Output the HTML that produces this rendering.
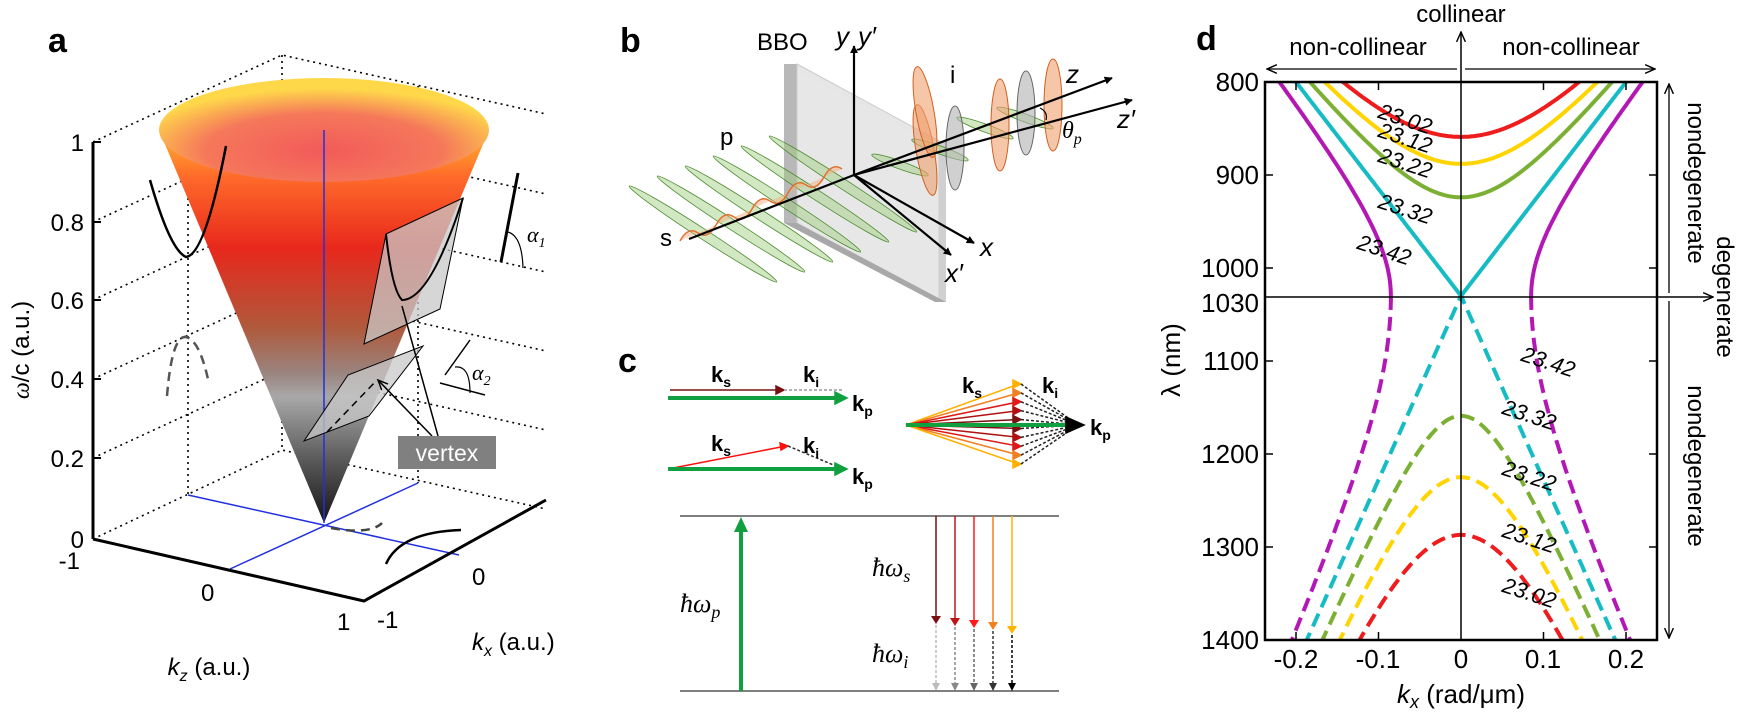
<!DOCTYPE html>
<html><head><meta charset="utf-8"><style>
html,body{margin:0;padding:0;background:#fff;overflow:hidden;width:1746px;height:713px}
svg{display:block;font-family:"Liberation Sans",Arial,sans-serif}
</style></head><body>
<svg id="s" width="1746" height="713" viewBox="0 0 1746 713" xmlns="http://www.w3.org/2000/svg">
<defs>
<linearGradient id="cg" x1="0" y1="130" x2="0" y2="523" gradientUnits="userSpaceOnUse">
<stop offset="0" stop-color="#ffb62e"/><stop offset="0.12" stop-color="#ff6a2a"/><stop offset="0.3" stop-color="#e8281c"/>
<stop offset="0.5" stop-color="#b0583a"/><stop offset="0.62" stop-color="#9a8580"/><stop offset="0.68" stop-color="#a8a8a8"/>
<stop offset="0.85" stop-color="#555"/><stop offset="1" stop-color="#151515"/></linearGradient>
<radialGradient id="tg" cx="0.5" cy="0.7" r="0.6"><stop offset="0" stop-color="#f25a5a"/><stop offset="0.6" stop-color="#f5785a"/><stop offset="1" stop-color="#ffd84a"/></radialGradient>
<marker id="ah" viewBox="0 0 10 10" refX="9" refY="5" markerWidth="8" markerHeight="8" orient="auto-start-reverse" markerUnits="userSpaceOnUse"><path d="M0,0L10,5L0,10z" fill="#000"/></marker>
<marker id="oa" viewBox="0 0 10 10" refX="9" refY="5" markerWidth="11" markerHeight="11" orient="auto-start-reverse" markerUnits="userSpaceOnUse"><path d="M0,1L9,5L0,9" fill="none" stroke="#000" stroke-width="1.3"/></marker>
<clipPath id="pc"><rect x="1265" y="82" width="392" height="558"/></clipPath>
</defs>

<!-- ========== Panel a ========== -->
<text x="48" y="52" font-size="34" font-weight="bold">a</text>
<g stroke="#000" stroke-width="1.6" stroke-dasharray="2,4" fill="none">
<path d="M93,142L282,55L546,114"/>
<path d="M93,222L282,135L546,194"/>
<path d="M93,300L282,213L546,272"/>
<path d="M93,379L282,292L546,351"/>
<path d="M93,458L282,371L546,430"/>
<path d="M93,539L282,450L546,509"/>
<path d="M282,55L282,450"/>
<path d="M188,102L188,495"/>
<path d="M418,86L418,483"/>
</g>
<g stroke="#2030e0" stroke-width="1.5"><path d="M188,495L459,555"/><path d="M230,569L418,483"/></g>
<path d="M159,130L324,523L489,130Z" fill="url(#cg)"/>
<ellipse cx="324" cy="130" rx="165" ry="52" fill="url(#tg)"/>
<path d="M324,130L324,523" stroke="#2030e0" stroke-width="1.5"/>
<g stroke="#000" stroke-width="3" fill="none"><path d="M93,142L93,539"/><path d="M93,539L364,601L546,500"/></g>
<g stroke="#000" stroke-width="2"><path d="M93,222h8M93,300h8M93,379h8M93,458h8M93,142h8"/></g>
<g font-size="24" text-anchor="end"><text x="84" y="151">1</text><text x="84" y="231">0.8</text><text x="84" y="309">0.6</text><text x="84" y="388">0.4</text><text x="84" y="467">0.2</text><text x="84" y="548">0</text><text x="80" y="569">-1</text></g>
<g font-size="24"><text x="201" y="601">0</text><text x="337" y="630">1</text><text x="377" y="628">-1</text><text x="472" y="585">0</text></g>
<text transform="translate(29,350) rotate(-90)" font-size="24" text-anchor="middle"><tspan font-style="italic" font-family="Liberation Serif">ω</tspan>/c (a.u.)</text>
<text x="209" y="675" font-size="24" text-anchor="middle"><tspan font-style="italic">k</tspan><tspan font-size="16" font-style="italic" dy="6">z</tspan><tspan dy="-6"> (a.u.)</tspan></text>
<text x="472" y="650" font-size="24"><tspan font-style="italic">k</tspan><tspan font-size="16" font-style="italic" dy="6">x</tspan><tspan dy="-6"> (a.u.)</tspan></text>
<path d="M150,180Q170,250 186,257Q205,255 226,146" stroke="#000" stroke-width="2.5" fill="none"/>
<path d="M167,396Q172,335 186,337Q200,340 209,384" stroke="#555" stroke-width="2.5" stroke-dasharray="9,6" fill="none"/>
<path d="M386,234L364,344L440,309L463,198Z" fill="#c8c8c8" fill-opacity="0.75" stroke="#000" stroke-width="1"/>
<path d="M386,234Q392,290 402,300Q430,300 463,198" stroke="#000" stroke-width="2" fill="none"/>
<path d="M304,441L348,375L423,346L369,416Z" fill="#c8c8c8" fill-opacity="0.75" stroke="#000" stroke-width="1"/>
<path d="M327,432L377,380" stroke="#000" stroke-width="1.5" stroke-dasharray="7,5"/>
<path d="M438,436L402,306M432,436L378,380" stroke="#000" stroke-width="1.5" marker-end="url(#oa)"/>
<rect x="398" y="436" width="98" height="33" fill="#808080"/>
<text x="447" y="461" font-size="23" fill="#fff" text-anchor="middle">vertex</text>
<path d="M518,173L501,262" stroke="#000" stroke-width="3"/>
<path d="M508,232Q522,236 523,268" stroke="#000" stroke-width="1.2" fill="none"/>
<text x="527" y="242" font-size="22" font-style="italic" font-family="Liberation Serif">α<tspan font-size="14" dy="5">1</tspan></text>
<path d="M470,340L445,375M440,383L485,395" stroke="#000" stroke-width="1.5"/>
<path d="M455,367Q470,365 470,393" stroke="#000" stroke-width="1.2" fill="none"/>
<text x="472" y="380" font-size="22" font-style="italic" font-family="Liberation Serif">α<tspan font-size="14" dy="5">2</tspan></text>
<path d="M386,564Q400,532 461,530" stroke="#000" stroke-width="2.5" fill="none"/>
<path d="M331,528Q370,535 382,523" stroke="#444" stroke-width="2.5" stroke-dasharray="9,6" fill="none"/>

<!-- ========== Panel b ========== -->
<text x="620" y="52" font-size="34" font-weight="bold">b</text>
<path d="M784,64L797,64L940,141L927,141Z" fill="#f0f0f0"/>
<path d="M784,64L797,64L797,223L784,223Z" fill="#b8b8b8"/>
<path d="M797,64L939,141L939,300L797,223Z" fill="#e4e4e4" fill-opacity="0.9" stroke="#ccc"/>
<path d="M939,141L946,141L946,302L939,300Z" fill="#d0d0d0"/>
<path d="M784,223L797,223L946,302L935,302Z" fill="#a8a8a8"/>
<g fill="#9ccc78" fill-opacity="0.45" stroke="#4a8a30" stroke-width="0.8">
<ellipse cx="703" cy="234" rx="88" ry="5" transform="rotate(33 703 234)"/>
<ellipse cx="731" cy="224" rx="88" ry="5" transform="rotate(33 731 224)"/>
<ellipse cx="759" cy="214" rx="88" ry="5" transform="rotate(33 759 214)"/>
<ellipse cx="787" cy="204" rx="88" ry="5" transform="rotate(33 787 204)"/>
<ellipse cx="815" cy="194" rx="88" ry="5" transform="rotate(33 815 194)"/>
<ellipse cx="843" cy="184" rx="88" ry="5" transform="rotate(33 843 184)"/>
<ellipse cx="900" cy="165" rx="30" ry="4" transform="rotate(20 900 165)"/>
<ellipse cx="940" cy="150" rx="30" ry="4" transform="rotate(20 940 150)"/>
<ellipse cx="985" cy="128" rx="30" ry="4" transform="rotate(20 985 128)"/>
<ellipse cx="1025" cy="118" rx="30" ry="4" transform="rotate(20 1025 118)"/>
</g>
<path d="M680,241q8,-15 18,-8t18,-8t18,-8t18,-8t18,-8t18,-8t18,-8t18,-8t18,-8" stroke="#e07030" stroke-width="1.5" fill="#f4b080" fill-opacity="0.5"/>
<g fill="#f0a070" fill-opacity="0.6" stroke="#d06020" stroke-width="1">
<ellipse cx="925" cy="150" rx="9" ry="46" transform="rotate(-10 925 150)"/>
<ellipse cx="925" cy="112" rx="9" ry="46" transform="rotate(-10 925 112)"/>
<ellipse cx="1000" cy="125" rx="9" ry="46"/>
<ellipse cx="1053" cy="105" rx="9" ry="46"/>
</g>
<g fill="#b0b0b0" fill-opacity="0.6" stroke="#666" stroke-width="1">
<ellipse cx="955" cy="148" rx="9" ry="42"/>
<ellipse cx="1026" cy="113" rx="9" ry="42"/>
</g>
<g stroke="#000" stroke-width="2.2" fill="none">
<path d="M689,239L854,175"/>
<path d="M854,175L854,46" marker-end="url(#ah)"/>
<path d="M854,175L1112,78" marker-end="url(#ah)"/>
<path d="M854,175L1132,100" marker-end="url(#ah)"/>
<path d="M854,175L974,243" marker-end="url(#ah)"/>
<path d="M854,175L951,255" marker-end="url(#ah)"/>
<path d="M1040,108Q1048,112 1046,120" stroke-width="1.2"/>
</g>
<g font-size="24"><text x="757" y="50">BBO</text><text x="720" y="145">p</text><text x="660" y="246">s</text><text x="950" y="83">i</text></g>
<g font-size="26" font-style="italic"><text x="836" y="45">y</text><text x="858" y="45">y′</text><text x="1066" y="83">z</text><text x="1117" y="128">z′</text><text x="980" y="256">x</text><text x="945" y="282">x′</text></g>
<text x="1062" y="138" font-size="24" font-style="italic" font-family="Liberation Serif">θ<tspan font-size="16" dy="6">p</tspan></text>

<!-- ========== Panel c ========== -->
<text x="618" y="372" font-size="34" font-weight="bold">c</text>
<g stroke-width="1.5" fill="none">
<path d="M670,390L781,390" stroke="#7a1010"/><path d="M776,386L784,390L776,394Z" fill="#7a1010" stroke="#7a1010"/>
<path d="M784,390L843,390" stroke="#999" stroke-dasharray="3,2"/>
<path d="M668,398L843,398" stroke="#10a040" stroke-width="4"/><path d="M835,392L847,398L835,404Z" fill="#10a040" stroke="#10a040"/>
<path d="M668,469L786,446" stroke="#ff1010"/><path d="M780,443L788,446L781,450Z" fill="#ff1010" stroke="#ff1010"/>
<path d="M788,446L843,469" stroke="#333" stroke-dasharray="3,2"/>
<path d="M668,469L843,469" stroke="#10a040" stroke-width="4"/><path d="M835,463L847,469L835,475Z" fill="#10a040" stroke="#10a040"/>
</g>
<g font-size="22" font-weight="bold"><text x="711" y="382">k<tspan font-size="14" dy="5">s</tspan></text><text x="803" y="382">k<tspan font-size="14" dy="5">i</tspan></text><text x="852" y="411">k<tspan font-size="14" dy="5">p</tspan></text>
<text x="711" y="451">k<tspan font-size="14" dy="5">s</tspan></text><text x="803" y="453">k<tspan font-size="14" dy="5">i</tspan></text><text x="852" y="484">k<tspan font-size="14" dy="5">p</tspan></text>
<text x="962" y="393">k<tspan font-size="14" dy="5">s</tspan></text><text x="1042" y="393">k<tspan font-size="14" dy="5">i</tspan></text><text x="1090" y="435">k<tspan font-size="14" dy="5">p</tspan></text></g>
<g stroke-width="1.5" fill="none" id="fan"></g>
<path d="M680,516H1059M680,691H1059" stroke="#333" stroke-width="1.2"/>
<path d="M741,691V528" stroke="#10a040" stroke-width="4"/><path d="M734,532L741,517L748,532Z" fill="#10a040"/>
<text x="680" y="612" font-size="26" font-style="italic" font-family="Liberation Serif">ħω<tspan font-size="18" dy="6">p</tspan></text>
<text x="872" y="576" font-size="26" font-style="italic" font-family="Liberation Serif">ħω<tspan font-size="18" dy="6">s</tspan></text>
<text x="872" y="662" font-size="26" font-style="italic" font-family="Liberation Serif">ħω<tspan font-size="18" dy="6">i</tspan></text>
<g id="lv"></g>

<!-- ========== Panel d ========== -->
<text x="1196" y="50" font-size="34" font-weight="bold">d</text>
<g id="curves" clip-path="url(#pc)"></g>
<rect x="1265" y="82" width="392" height="558" fill="none" stroke="#000" stroke-width="2.5"/>
<path d="M1461,640V32" stroke="#000" stroke-width="1.5" marker-end="url(#oa)"/>
<path d="M1265,297H1713" stroke="#000" stroke-width="1.5" marker-end="url(#oa)"/>
<path d="M1267,69H1457M1465,69H1655" stroke="#000" stroke-width="1.3" marker-start="url(#oa)" marker-end="url(#oa)"/>
<path d="M1669,84V293M1669,301V638" stroke="#000" stroke-width="1.3" marker-start="url(#oa)" marker-end="url(#oa)"/>
<g id="ticks" stroke="#000" stroke-width="1.5"></g>
<g font-size="26" text-anchor="end"><text x="1259" y="91">800</text><text x="1259" y="184">900</text><text x="1259" y="277">1000</text><text x="1259" y="312">1030</text><text x="1259" y="370">1100</text><text x="1259" y="463">1200</text><text x="1259" y="556">1300</text><text x="1259" y="649">1400</text></g>
<g font-size="26" text-anchor="middle"><text x="1296" y="668">-0.2</text><text x="1378" y="668">-0.1</text><text x="1461" y="668">0</text><text x="1543" y="668">0.1</text><text x="1626" y="668">0.2</text></g>
<text x="1461" y="703" font-size="26" text-anchor="middle"><tspan font-style="italic">k</tspan><tspan font-size="18" font-style="italic" dy="5">x</tspan><tspan dy="-5"> (rad/μm)</tspan></text>
<text transform="translate(1180,360) rotate(-90)" font-size="26" text-anchor="middle">λ (nm)</text>
<g font-size="24" text-anchor="middle"><text x="1461" y="22">collinear</text><text x="1358" y="55">non-collinear</text><text x="1571" y="55">non-collinear</text></g>
<g font-size="24" text-anchor="middle"><text transform="translate(1688,183) rotate(90)">nondegenerate</text><text transform="translate(1717,297) rotate(90)">degenerate</text><text transform="translate(1688,466) rotate(90)">nondegenerate</text></g>
<g font-size="22" font-style="italic" text-anchor="middle">
<text transform="translate(1403,126) rotate(18)">23.02</text><text transform="translate(1403,145) rotate(18)">23.12</text><text transform="translate(1403,170) rotate(18)">23.22</text><text transform="translate(1403,216) rotate(18)">23.32</text><text transform="translate(1382,257) rotate(18)">23.42</text>
<text transform="translate(1546,369) rotate(18)">23.42</text><text transform="translate(1527,422) rotate(18)">23.32</text><text transform="translate(1527,483) rotate(18)">23.22</text><text transform="translate(1527,545) rotate(18)">23.12</text><text transform="translate(1527,600) rotate(18)">23.02</text></g>
</svg>
<script>
(function(){
var NS="http://www.w3.org/2000/svg";
function el(p,t,a){var e=document.createElementNS(NS,t);for(var k in a)e.setAttribute(k,a[k]);p.appendChild(e);return e;}
var X=function(k){return 1461+k*825},Y=function(l){return 82+(l-800)*0.93};
var g=document.getElementById('curves');
var cols={"23.02":"#ee1c1c","23.12":"#ffd400","23.22":"#7cb034","23.32":"#16bcc4","23.42":"#b418b4"};
var up=[["23.02",171,1075],["23.12",142,1096],["23.22",106,1115],["23.32",0,1150]];
var lo=[["23.02",257,2164],["23.12",195,2140],["23.22",129,2064],["23.32",0,1979]];
function poly(pts,c,dash){pts=pts.filter(function(p){return p[1]>=76&&p[1]<=646&&p[0]>=1258&&p[0]<=1664;});if(pts.length<2)return;el(g,'path',{d:'M'+pts.map(function(p){return p[0].toFixed(1)+','+p[1].toFixed(1)}).join('L'),stroke:c,'stroke-width':4,fill:'none','stroke-dasharray':dash||'none'});}
up.forEach(function(u){var p=[];for(var k=-0.26;k<=0.2601;k+=0.002){var d=Math.sqrt(u[1]*u[1]+u[2]*u[2]*k*k);p.push([X(k),Y(1030-d)]);}poly(p,cols[u[0]]);});
lo.forEach(function(u){var p=[];for(var k=-0.26;k<=0.2601;k+=0.002){var d=Math.sqrt(u[1]*u[1]+u[2]*u[2]*k*k);p.push([X(k),Y(1030+d)]);}poly(p,cols[u[0]],'14,7');});
[-1,1].forEach(function(sg){var p=[],q=[];for(var d=0;d<=400;d+=4){p.push([X(sg*Math.sqrt(0.085*0.085+d*d/(1133*1133))),Y(1030-d)]);q.push([X(sg*Math.sqrt(0.085*0.085+d*d/(1983*1983))),Y(1030+d)]);}poly(p,cols["23.42"]);poly(q,cols["23.42"],'14,7');});
var t=document.getElementById('ticks');
[900,1000,1100,1200,1300].forEach(function(l){el(t,'path',{d:'M1265,'+Y(l)+'h8M1657,'+Y(l)+'h-8'});});
[-0.2,-0.1,0.1,0.2].forEach(function(k){el(t,'path',{d:'M'+X(k)+',640v-8M'+X(k)+',82v8'});});
var f=document.getElementById('fan');var fc=["#ffb000","#f08020","#e01818","#b01010","#7a1010","#7a1010","#b01010","#e01818","#f08020","#ffb000"];
for(var i=0;i<10;i++){var ty=384+i*(80/9);var c=fc[i];el(f,'path',{d:'M906,425L1019,'+ty,stroke:c});el(f,'path',{d:'M1013,'+(ty-4)+'L1021,'+ty+'L1013,'+(ty+4)+'Z',fill:c,stroke:c});el(f,'path',{d:'M1021,'+ty+'L1078,425',stroke:'#222','stroke-dasharray':'3,2'});}
el(f,'path',{d:'M906,425L1070,425',stroke:'#10a040','stroke-width':4});
el(f,'path',{d:'M1066,417L1084,425L1066,433Z',fill:'#000',stroke:'#000'});
var lv=document.getElementById('lv');var dc=["#7a1010","#c01418","#ff1a1a","#f08020","#ffb400"],ic=["#bbb","#888","#666","#333","#000"],ys=[624,626,628,630,634];
for(var j=0;j<5;j++){var x=936+j*19;el(lv,'path',{d:'M'+x+',516V'+(ys[j]-6),stroke:dc[j],'stroke-width':1.5});el(lv,'path',{d:'M'+(x-5)+','+(ys[j]-8)+'L'+x+','+ys[j]+'L'+(x+5)+','+(ys[j]-8)+'Z',fill:dc[j]});el(lv,'path',{d:'M'+x+','+(ys[j]+1)+'V684',stroke:ic[j],'stroke-width':1.5,'stroke-dasharray':'3,2'});el(lv,'path',{d:'M'+(x-4)+',683L'+x+',691L'+(x+4)+',683Z',fill:ic[j]});}
})();
</script>
</body></html>
